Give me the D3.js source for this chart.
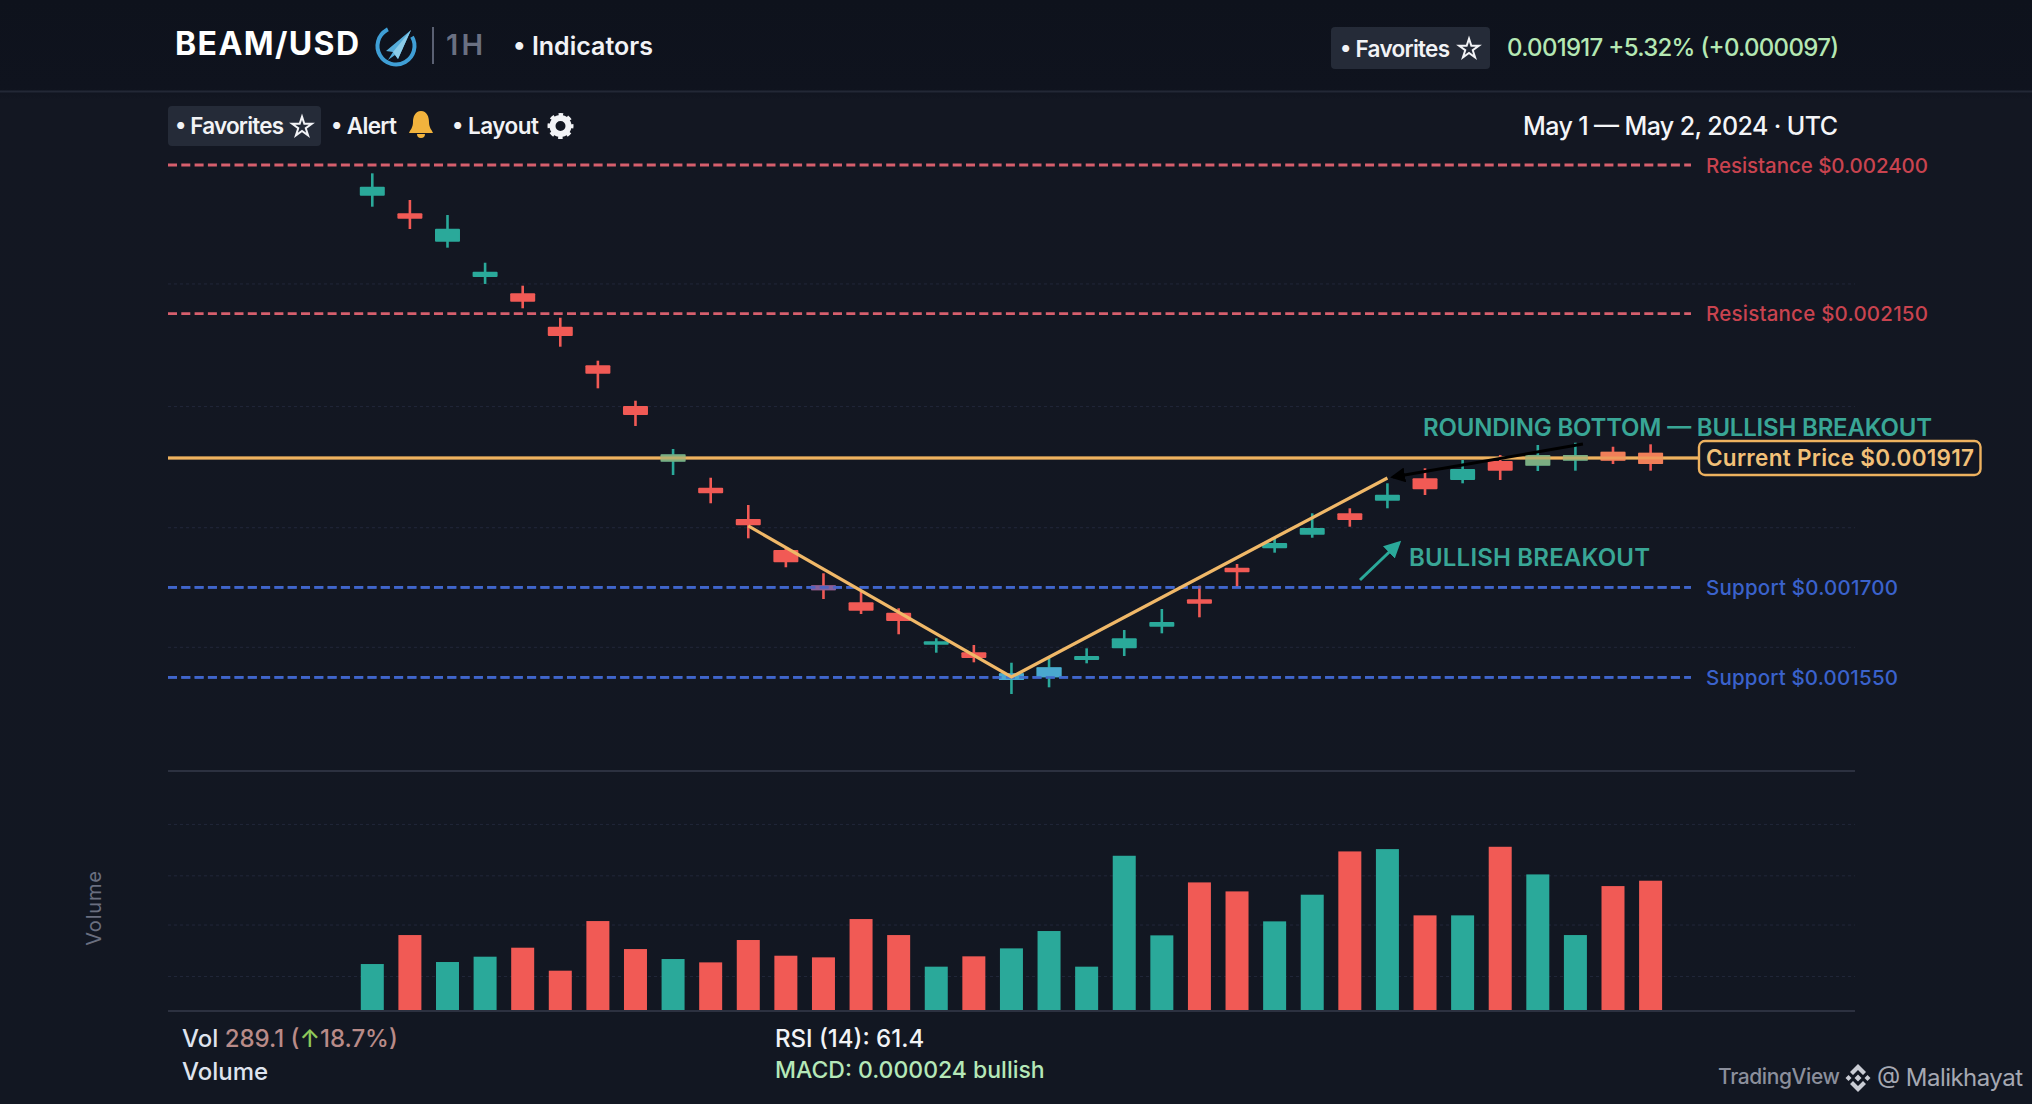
<!DOCTYPE html>
<html><head><meta charset="utf-8">
<script src="https://cdn.jsdelivr.net/npm/d3@7/dist/d3.min.js"></script>
<style>
html,body{margin:0;padding:0;background:#121621;overflow:hidden}
svg{display:block}
text{font-family:Inter,"Noto Sans",sans-serif}
</style></head><body>
<svg id="c" width="2032" height="1104"></svg>
<script>
// ---- data (prices in millionths of a dollar) ----
const highs =[2386,2341.2,2315.9,2235.7,2197.1,2143.5,2074.1,2009.5,1931.5,1883.9,1838.1,1766,1723.5,1692.7,1665,1615,1603.8,1574.3,1582.2,1598.3,1628.8,1663.8,1702.7,1739.1,1782.2,1824.2,1832.6,1874.5,1899.7,1913.6,1921.8,1938,1941.7,1935.2,1939.1];
const lows  =[2329.9,2292.4,2261,2200,2159.1,2096.7,2029.5,1968.7,1888.5,1841,1782.2,1733.6,1680.5,1655.5,1621.7,1591,1575,1522.2,1533.3,1573.3,1585.5,1623.3,1650,1701,1758.1,1783.2,1801.7,1832.6,1854.9,1874.5,1880.1,1895.2,1895.7,1906.9,1895.7];
const opens =[2348.4,2318.8,2271.1,2211.7,2184.3,2129,2066.7,2001,1910.8,1867.2,1814.6,1762.6,1703.4,1675,1657.7,1604.3,1591.7,1545.5,1550,1578.8,1598.3,1634.3,1680,1732.9,1765.4,1788.3,1824.2,1845.3,1882.9,1880.1,1912,1904.1,1912.5,1927.2,1925.6];
const closes=[2363.5,2309.7,2292.9,2220.6,2170.2,2114,2053.1,1986.4,1923,1857.8,1804.1,1742,1695,1661,1643.8,1610,1582.2,1556.7,1566.7,1585.5,1615,1642.2,1672.7,1725.2,1774.3,1799.5,1812.9,1855.4,1864.5,1898.5,1895.7,1921.8,1921.8,1912.5,1906.9];
const volumes=[102.8,167.6,107.3,119.2,139.3,87.9,198.9,136.3,114,106.5,156.5,121.4,117.7,203.4,167.6,96.9,120,137.8,176.6,96.9,344.9,166.9,285.3,265.2,198.2,257.8,354.6,359.8,211.6,211.6,365,303.2,167.6,277.1,289.1];
const volumeUp=[1,0,1,1,0,0,0,0,1,0,0,0,0,0,0,1,0,1,1,1,1,1,0,0,1,1,0,1,0,1,0,1,1,0,0];
const candleUp=[1,0,1,1,0,0,0,0,1,0,0,0,0,0,0,1,0,1,1,1,1,1,0,0,1,1,0,1,0,1,0,1,1,0,0];
const resistance=[2400,2150];
const support=[1700,1550];
const current=1917;
const priceGrid=[2200,2000,1800,1600];
const volumeGrid=[75,190,300,415];
const roundIdx=[10,17,27];
const roundPrice=[1802.9,1550.5,1883.4];

const TEAL="#2aa99a",RED="#f15a55",GOLD="#eeb25f",BLUE="#4066cc";
const svg=d3.select("#c");
const defs=svg.append("defs");
const bg=defs.append("linearGradient").attr("id","bg").attr("x1",0).attr("y1",0).attr("x2",0).attr("y2",1);
bg.append("stop").attr("offset",0).attr("stop-color","#0e121c");
bg.append("stop").attr("offset",0.08).attr("stop-color","#0f131e");
bg.append("stop").attr("offset",0.09).attr("stop-color","#131722");
bg.append("stop").attr("offset",1).attr("stop-color","#121722");
svg.append("rect").attr("width",2032).attr("height",1104).attr("fill","url(#bg)");

function marker(id,color,size){
 defs.append("marker").attr("id",id).attr("viewBox","0 0 10 10").attr("refX",8).attr("refY",5)
  .attr("markerWidth",size).attr("markerHeight",size).attr("markerUnits","userSpaceOnUse").attr("orient","auto")
  .append("path").attr("d","M0,0L10,5L0,10Z").attr("fill",color);
}
marker("mTeal",TEAL,17); marker("mBlack","#000",15);

// scales
const x=d3.scaleLinear().domain([0,34]).range([372.3,1650.6]);
const y=d3.scaleLinear().domain([2400,2150,1917,1700,1550]).range([165,313.7,458,587.3,677.3]);
const yv=d3.scaleLinear().domain([0,500]).range([1010,786.4]);
const L=168,R=1855,LEVEL_END=1691;

// header
svg.append("line").attr("x1",0).attr("x2",2032).attr("y1",91.5).attr("y2",91.5).attr("stroke","#232836").attr("stroke-width",2);
function T(s,xp,yp,size,w,fill,anchor,len){
 const t=svg.append("text").attr("x",xp).attr("y",yp).attr("font-size",size).attr("font-weight",w).attr("fill",fill).attr("text-anchor",anchor||"start").text(s);
 if(len) t.attr("textLength",len);
 return t;
}
T("BEAM/USD",175,55,32,700,"#ffffff","start",184);
const logo=svg.append("g").attr("transform","translate(396,46)");
logo.append("circle").attr("r",18.5).attr("fill","none").attr("stroke","#3f9fd6").attr("stroke-width",4).attr("stroke-dasharray","88 28").attr("transform","rotate(-30)");
logo.append("path").attr("d","M15,-16L-10,5L-3,6L-8,14L-1,9L2,13Z").attr("fill","#55acd9");
logo.append("path").attr("d","M15,-16L-3,6L2,13Z").attr("fill","#8ccce8");
svg.append("line").attr("x1",433).attr("x2",433).attr("y1",27).attr("y2",64).attr("stroke","#5a6072").attr("stroke-width",2);
T("1H",446,55,29,600,"#6a7082","start",37);
T("• Indicators",513,55,25,600,"#f2f3f6");

function box(a,b,c,d){svg.append("rect").attr("x",a).attr("y",b).attr("width",c-a).attr("height",d-b).attr("rx",4).attr("fill","#252b38");}
function star(cx,cy){
 svg.append("path").attr("d",d3.symbol(d3.symbolStar,120)()).attr("transform",`translate(${cx},${cy})`).attr("fill","none").attr("stroke","#f2f3f6").attr("stroke-width",2);
}
box(1331,27,1490,69);
T("• Favorites",1340,57,22.5,600,"#f2f3f6","start",110);
star(1469,49);
T("0.001917 +5.32% (+0.000097)",1507,56,24,500,"#b5e8b3","start",332);

box(168,106,321,146);
T("• Favorites",175,134,22.5,600,"#f2f3f6","start",109);
star(302,127);
T("• Alert",331,134,22.5,600,"#f2f3f6","start",66);
svg.append("path").attr("transform","translate(421,124)").attr("fill","#f2b33d")
 .attr("d","M0,-13C-6,-13 -8,-7 -8,-2C-8,4 -11,6 -12,9L12,9C11,6 8,4 8,-2C8,-7 6,-13 0,-13ZM-4,10A4,4 0 0 0 4,10Z");
T("• Layout",452,134,22.5,600,"#f2f3f6","start",87);
const gear=svg.append("g").attr("transform","translate(560.5,126)");
gear.append("circle").attr("r",8).attr("fill","none").attr("stroke","#f2f3f6").attr("stroke-width",6);
gear.append("circle").attr("r",11).attr("fill","none").attr("stroke","#f2f3f6").attr("stroke-width",4).attr("stroke-dasharray","4.32 4.32").attr("stroke-dashoffset",2.16);
T("May 1 — May 2, 2024 · UTC",1523,135,25,500,"#f4f5f8","start",315);

// price grid
svg.append("g").selectAll("line").data(priceGrid).join("line")
 .attr("x1",L).attr("x2",R).attr("y1",d=>y(d)).attr("y2",d=>y(d))
 .attr("stroke","#22273a").attr("stroke-width",1).attr("stroke-dasharray","3 3");

// level lines
function level(v,color,label,lc,len){
 svg.append("line").attr("x1",L).attr("x2",LEVEL_END).attr("y1",y(v)).attr("y2",y(v)).attr("stroke",color).attr("stroke-width",2.8).attr("stroke-dasharray","9 4.3");
 T(label,1706,y(v)+7.5,20.5,500,lc,"start",len);
}
resistance.forEach(v=>level(v,"#d65f6d","Resistance $"+(v/1e6).toFixed(6),"#c9434f",222));
support.forEach(v=>level(v,BLUE,"Support $"+(v/1e6).toFixed(6),"#3a62cc",192));

// current price line
svg.append("line").attr("x1",L).attr("x2",1700).attr("y1",y(current)).attr("y2",y(current)).attr("stroke",GOLD).attr("stroke-width",3);

// candles
const idx=d3.range(highs.length);
const BW=25;
const g=svg.append("g");
g.selectAll("line").data(idx).join("line")
 .attr("x1",i=>x(i)).attr("x2",i=>x(i)).attr("y1",i=>y(highs[i])).attr("y2",i=>y(lows[i]))
 .attr("stroke",i=>candleUp[i]?TEAL:RED).attr("stroke-width",2.6);
g.selectAll("rect").data(idx).join("rect")
 .attr("x",i=>x(i)-BW/2).attr("width",BW)
 .attr("y",i=>y(Math.max(opens[i],closes[i]))).attr("height",i=>Math.abs(y(opens[i])-y(closes[i])))
 .attr("rx",1).attr("fill",i=>candleUp[i]?TEAL:RED);

// thin bodies sitting on a level line take on its tint
[[current,GOLD,.42],[support[0],BLUE,.6],[support[1],"#56a8e0",.75]].forEach(([lv,col,op])=>{
 g.append("g").selectAll("rect").data(idx.filter(i=>Math.max(opens[i],closes[i])>=lv&&Math.min(opens[i],closes[i])<=lv&&Math.abs(opens[i]-closes[i])<20)).join("rect")
  .attr("x",i=>x(i)-BW/2).attr("width",BW)
  .attr("y",i=>y(Math.max(opens[i],closes[i]))).attr("height",i=>Math.abs(y(opens[i])-y(closes[i])))
  .attr("fill",col).attr("opacity",op);
});

// level lines showing through the bodies
svg.append("line").attr("x1",L).attr("x2",1700).attr("y1",y(current)).attr("y2",y(current)).attr("stroke",GOLD).attr("stroke-width",3).attr("opacity",.55);
support.forEach(v=>svg.append("line").attr("x1",L).attr("x2",LEVEL_END).attr("y1",y(v)).attr("y2",y(v)).attr("stroke",BLUE).attr("stroke-width",2.8).attr("stroke-dasharray","9 4.3").attr("opacity",.75));

// rounding bottom line
svg.append("path").datum(roundIdx.map((d,i)=>[d,roundPrice[i]]))
 .attr("d",d3.line().x(d=>x(d[0])).y(d=>y(d[1]))).attr("fill","none").attr("stroke","#f0b868").attr("stroke-width",3.2);

// annotations
svg.append("line").attr("x1",x(32.2)).attr("y1",y(1939.6)).attr("x2",x(27.15)).attr("y2",y(1885.1)).attr("stroke","#000").attr("stroke-width",3).attr("marker-end","url(#mBlack)");
svg.append("line").attr("x1",x(26.27)).attr("y1",y(1712.2)).attr("x2",x(27.3)).attr("y2",y(1774.3)).attr("stroke",TEAL).attr("stroke-width",3).attr("marker-end","url(#mTeal)");
T("ROUNDING BOTTOM — BULLISH BREAKOUT",1423,436,24,600,"#39a696","start",509);
T("BULLISH BREAKOUT",1409,566,24,600,"#39a696","start",241);

// current price label
svg.append("rect").attr("x",1699).attr("y",441).attr("width",281.5).attr("height",34).attr("rx",6).attr("fill","#131722").attr("stroke",GOLD).attr("stroke-width",2.4);
T("Current Price $"+(current/1e6).toFixed(6),1706,466,22.5,600,"#f2c078","start",268);

// separators
svg.append("line").attr("x1",L).attr("x2",R).attr("y1",771).attr("y2",771).attr("stroke","#2c3140").attr("stroke-width",2);
svg.append("g").selectAll("line").data(volumeGrid).join("line")
 .attr("x1",L).attr("x2",R).attr("y1",d=>yv(d)).attr("y2",d=>yv(d))
 .attr("stroke","#22273a").attr("stroke-width",1).attr("stroke-dasharray","3 3");
svg.append("line").attr("x1",L).attr("x2",R).attr("y1",1011).attr("y2",1011).attr("stroke","#2c3140").attr("stroke-width",2);

// volume bars
svg.append("g").selectAll("rect").data(idx).join("rect")
 .attr("x",i=>x(i)-11.5).attr("width",23)
 .attr("y",i=>yv(volumes[i])).attr("height",i=>yv(0)-yv(volumes[i]))
 .attr("fill",i=>volumeUp[i]?TEAL:RED);

svg.append("text").attr("transform","translate(101,908) rotate(-90)").attr("text-anchor","middle")
 .attr("font-size",20).attr("fill","#6a6f80").attr("letter-spacing",0.8).text("Volume");

// footer
const v=svg.append("text").attr("x",182).attr("y",1047).attr("font-size",24).attr("font-weight",500);
v.append("tspan").attr("fill","#dfe3ee").text("Vol ");
v.append("tspan").attr("fill","#b98b88").text("289.1 (");
v.append("tspan").attr("fill","#8fc85a").text("↑");
v.append("tspan").attr("fill","#b98b88").text("18.7%)");
T("Volume",182,1080,24,500,"#dfe3ee");
T("RSI (14): 61.4",775,1047,24,500,"#f2f3f6");
T("MACD: 0.000024 bullish",775,1078,23,500,"#b5e8b8");
T("TradingView",1718,1084,21,500,"#8b8f9c","start",122);
const wm=svg.append("g").attr("transform","translate(1858,1078)").attr("fill","#c9ccd4");
wm.append("path").attr("d","M0,-14L8,-6L5,-3L0,-8L-5,-3L-8,-6Z");
wm.append("path").attr("d","M0,14L8,6L5,3L0,8L-5,3L-8,6Z");
wm.append("path").attr("d","M0,-3.5L3.5,0L0,3.5L-3.5,0Z");
wm.append("path").attr("d","M-9.5,-3L-6.5,0L-9.5,3L-12.5,0Z");
wm.append("path").attr("d","M9.5,-3L12.5,0L9.5,3L6.5,0Z");
T("@ Malikhayat",1877,1086,24,400,"#a5a8b2","start",146);
</script></body></html>
